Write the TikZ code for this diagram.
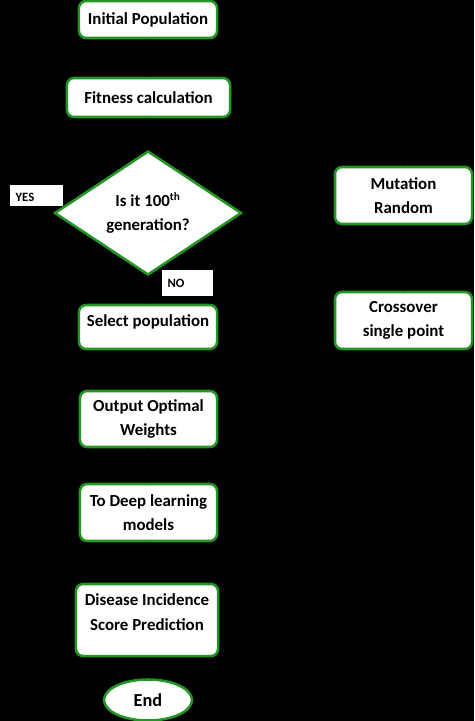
\documentclass[tikz,border=0pt]{standalone}
\usepackage{fontspec}
\setmainfont{Carlito}
\usetikzlibrary{shapes.geometric}

\definecolor{boxgreen}{RGB}{34,150,34}

\tikzset{
	box/.style={draw=boxgreen, line width=1.8pt, fill=white, rounded corners=5pt, align=center, font=\bfseries\fontsize{12}{17.5}\selectfont},
	decision/.style={draw=boxgreen, line width=1.8pt, fill=white, diamond, aspect=1.5, inner sep=0pt, align=center, font=\bfseries\fontsize{12}{17.5}\selectfont},
	term/.style={draw=boxgreen, line width=1.8pt, fill=white, ellipse, inner sep=0pt, font=\bfseries\fontsize{13}{15}\selectfont},
	tag/.style={fill=white, inner xsep=4pt, inner ysep=0pt, align=left, font=\bfseries\fontsize{9}{10}\selectfont},
	flow/.style={black, line width=0.6pt, ->}
}

\begin{document}
\begin{tikzpicture}[x=0.025cm, y=-0.025cm]
		\fill[black] (0, 0) rectangle (474, 721);
		\useasboundingbox (0, 0) rectangle (474, 721);
		
		% main column
		\node[box, minimum width=3.45cm, minimum height=0.925cm] (init) at (148, 19.5) {Initial Population};
		\node[box, minimum width=4.075cm, minimum height=0.975cm] (fit) at (148.5, 97.5) {Fitness calculation};
		\node[decision, minimum width=4.675cm, minimum height=3.1cm] (dec) at (148, 213) {Is it 100\textsuperscript{th}\\generation?};
		\node[box, minimum width=3.45cm, minimum height=1.1cm, text depth=8.5pt] (sel) at (148, 327) {Select population};
		\node[box, minimum width=3.425cm, minimum height=1.4cm] (optw) at (148.5, 419) {Output Optimal\\Weights};
		\node[box, minimum width=3.425cm, minimum height=1.425cm] (dlm) at (148.5, 512.5) {To Deep learning\\models};
		\node[box, minimum width=3.55cm, minimum height=1.8cm, text depth=11.5pt] (dis) at (147, 620) {Disease Incidence\\Score Prediction};
		\node[term, minimum width=2.2cm, minimum height=1.025cm] (fin) at (148, 700) {End};
		
		% operators
		\node[box, minimum width=3.425cm, minimum height=1.425cm] (mut) at (403.5, 195.5) {Mutation\\Random};
		\node[box, minimum width=3.425cm, minimum height=1.425cm] (cross) at (403.5, 320.5) {Crossover\\single point};
		
		% answers
		\node[tag, minimum width=1.325cm, minimum height=0.525cm, text width=1.325cm-8pt, text height=9pt] (yes) at (36.5, 195.5) {YES};
		\node[tag, minimum width=1.275cm, minimum height=0.65cm, text width=1.275cm-8pt] (no) at (187.5, 283) {NO};
		
		% connectors (black on black)
		\draw[flow] (init) -- (fit);
		\draw[flow] (fit) -- (dec);
		\draw[flow] (dec) -- (sel);
		\draw[flow] (sel) -- (cross);
		\draw[flow] (cross) -- (mut);
		\draw[flow] (mut) |- (fit);
		\draw[flow] (dec.west) -| (30, 419) -- (optw);
		\draw[flow] (optw) -- (dlm);
		\draw[flow] (dlm) -- (dis);
		\draw[flow] (dis) -- (fin);
	\end{tikzpicture}
\end{document}
